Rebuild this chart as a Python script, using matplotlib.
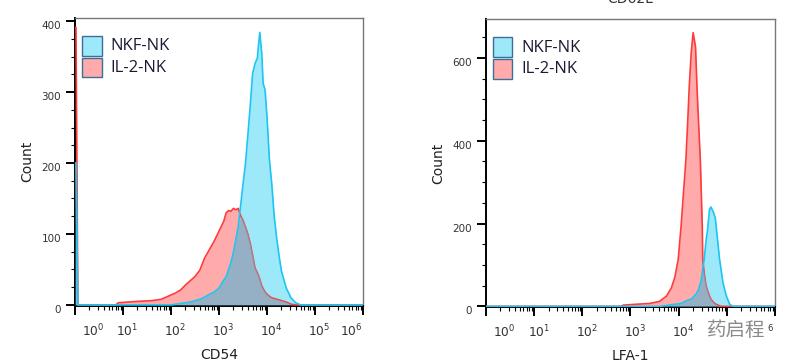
import numpy as np
import matplotlib
matplotlib.use('Agg')
import matplotlib.pyplot as plt
from matplotlib.patches import Rectangle
from matplotlib.ticker import MultipleLocator, LogLocator, NullFormatter
from matplotlib.transforms import ScaledTranslation

# ---------------- data ----------------
series_names = ['NKF-NK', 'IL-2-NK']
x_labels = ['CD54', 'LFA-1']
y_label = 'Count'
right_title = 'CD62L'
decades = [0, 1, 2, 3, 4, 5, 6]

# CD54 panel: log10 positions, counts
cd54_log = [0.00, 0.02, 0.06, 0.85, 0.90, 1.30, 1.60, 1.80, 1.90, 2.00, 2.10, 2.20, 2.30,
            2.40, 2.50, 2.60, 2.70, 2.80, 2.90, 3.00, 3.10, 3.15, 3.20, 3.25, 3.30, 3.35,
            3.40, 3.45, 3.50, 3.55, 3.60, 3.65, 3.70, 3.75, 3.80, 3.82, 3.85, 3.89, 3.92,
            3.96, 4.00, 4.05, 4.10, 4.15, 4.20, 4.25, 4.30, 4.40, 4.50, 4.60, 4.70, 6.00]
cd54_il2 = [391, 391, 0, 0, 3, 5, 6, 8, 11, 14, 17, 21, 28,
            34, 40, 49, 66, 78, 90, 104, 118, 130, 133, 132, 136, 134,
            136, 126, 119, 110, 100, 87, 70, 52, 45, 42, 36, 27, 23,
            18, 15, 12, 10, 9, 8, 7, 6, 4, 1, 0, 0, 0]
cd54_nkf = [200, 200, 0, 0, 0, 0, 0, 0, 0, 0, 1, 2, 3,
            4, 6, 8, 11, 15, 18, 24, 35, 40, 50, 60, 74, 92,
            110, 140, 170, 198, 238, 280, 326, 340, 348, 364, 384, 355, 312,
            303, 265, 205, 170, 125, 95, 70, 48, 24, 10, 3, 0, 0]

# LFA-1 panel
lfa_log = [0.00, 2.80, 2.85, 3.10, 3.40, 3.60, 3.75, 3.85, 3.92, 3.99, 4.05, 4.10, 4.15,
           4.19, 4.22, 4.26, 4.30, 4.35, 4.38, 4.41, 4.45, 4.47, 4.49, 4.50, 4.53, 4.57,
           4.60, 4.64, 4.67, 4.72, 4.76, 4.80, 4.85, 4.92, 4.99, 5.06, 5.13, 6.00]
lfa_il2 = [0, 0, 3, 5, 7, 12, 25, 45, 70, 113, 193, 274, 354,
           451, 531, 611, 661, 627, 531, 451, 354, 274, 193, 113, 80, 49,
           38, 25, 17, 10, 6, 4, 1, 0, 0, 0, 0, 0]
lfa_nkf = [0, 0, 0, 0, 0, 0, 2, 4, 5, 6, 7, 10, 13,
           15, 16, 17, 22, 28, 33, 40, 55, 65, 80, 90, 113, 160,
           185, 234, 240, 228, 214, 169, 113, 57, 25, 5, 0, 0]

left_yticks = [0, 100, 200, 300, 400]
right_yticks = [0, 200, 400, 600]

# ---------------- style ----------------
cyan_fill = '#9DE9FA'
cyan_line = '#1CC6F2'
pink_fill = '#FFABAB'
red_line = '#FF3A3A'
overlap_col = '#69B3CF'

W, H, DPI = 790, 364, 100
fig = plt.figure(figsize=(W / DPI, H / DPI), dpi=DPI)
fig.patch.set_facecolor('white')


def px_axes(x0, x1, ytop, ybot):
    return fig.add_axes([x0 / W, 1 - ybot / H, (x1 - x0) / W, (ybot - ytop) / H])


ax1 = px_axes(75, 363, 17.5, 306)
ax2 = px_axes(486, 775, 19, 307)


def draw(ax, logs, il2, nkf, ylim, yticks, ymin_step, xlabel):
    x = 10 ** np.asarray(logs, dtype=float)
    il2 = np.asarray(il2, dtype=float)
    nkf = np.asarray(nkf, dtype=float)
    ax.fill_between(x, 0, nkf, color=cyan_fill, lw=0, zorder=1)
    ax.fill_between(x, 0, il2, color=pink_fill, lw=0, zorder=2)
    ax.plot(x, il2, color=red_line, lw=1.2, zorder=3, solid_joinstyle='round')
    ax.fill_between(x, 0, np.minimum(il2, nkf), color=overlap_col, alpha=0.7, lw=0, zorder=4)
    ax.plot(x, nkf, color=cyan_line, lw=1.2, zorder=5, solid_joinstyle='round')

    ax.set_xscale('log')
    ax.set_xlim(1, 1e6)
    ax.set_ylim(*ylim)
    ax.set_yticks(yticks)
    ax.yaxis.set_minor_locator(MultipleLocator(ymin_step))
    ax.set_xticks([10.0 ** d for d in decades],
                  labels=[r'$\mathregular{10^{%d}}$' % d for d in decades])
    ax.xaxis.set_minor_locator(LogLocator(base=10, subs=np.arange(2, 10), numticks=100))
    ax.xaxis.set_minor_formatter(NullFormatter())

    ax.tick_params(axis='both', which='major', length=6.5, width=1.4, color='black',
                   labelcolor='#333333')
    ax.tick_params(axis='y', which='major', pad=3.6, labelsize=7.5)
    ax.tick_params(axis='x', which='major', pad=5.5, labelsize=8.8)
    ax.tick_params(axis='both', which='minor', length=3, width=0.8, color='black')

    for side in ['left', 'bottom']:
        ax.spines[side].set_color('black')
        ax.spines[side].set_linewidth(1.4)
    for side in ['top', 'right']:
        ax.spines[side].set_color('#777777')
        ax.spines[side].set_linewidth(1.0)

    ax.set_ylabel(y_label, fontsize=10, color='#222222', labelpad=5)
    ax.set_xlabel(xlabel, fontsize=10, color='#222222', labelpad=6)

    # tick label offsets
    for lab in ax.get_yticklabels():
        lab.set_transform(lab.get_transform() + ScaledTranslation(0, -4 / DPI, fig.dpi_scale_trans))
    xl = ax.get_xticklabels()
    for i, lab in enumerate(xl):
        if i == 0:
            lab.set_ha('left')
            dx = 7
        elif i == len(xl) - 1:
            lab.set_ha('right')
            dx = 0
        else:
            dx = 4.5
        lab.set_transform(lab.get_transform() + ScaledTranslation(dx / DPI, 0, fig.dpi_scale_trans))

    # legend (manual squares)
    axw = ax.get_position().width * W
    axh = ax.get_position().height * H
    fills = [cyan_fill, pink_fill]
    for i, (name, fc) in enumerate(zip(series_names, fills)):
        top = 18.5 + i * 21.5
        ax.add_patch(Rectangle((7 / axw, 1 - (top + 19.5) / axh), 19.5 / axw, 19.5 / axh,
                               transform=ax.transAxes, facecolor=fc, edgecolor='#3C6E98',
                               lw=1.0, zorder=10, clip_on=False))
        ax.text(35 / axw, 1 - (top + 10) / axh, name, transform=ax.transAxes,
                fontsize=12, family='Open Sans', color='#1a1a33', va='center', ha='left', zorder=11)


draw(ax1, cd54_log, cd54_il2, cd54_nkf, (-1.5, 405), left_yticks, 25, x_labels[0])
draw(ax2, lfa_log, lfa_il2, lfa_nkf, (-1.5, 694), right_yticks, 50, x_labels[1])

ax2.set_title(right_title, fontsize=10, color='#333333', pad=11.5)

# watermark
fig.text(736 / W, 1 - 330 / H, '药启程', fontsize=14, color='#8a8a8a',
         family=['Noto Sans CJK SC', 'DejaVu Sans'], ha='center', va='center',
         bbox=dict(facecolor='white', edgecolor='none', pad=1.5))

fig.savefig('out.png', dpi=DPI, facecolor='white')
